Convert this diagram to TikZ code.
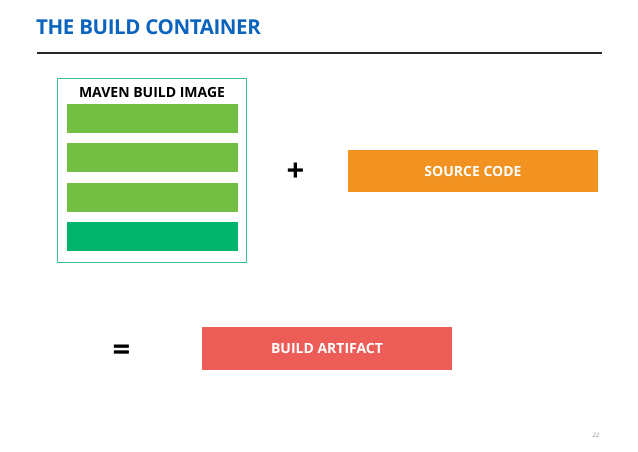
\documentclass[tikz,border=0pt]{standalone}
\usepackage{fontspec}
\setmainfont{Open Sans}
\definecolor{titreBleu}{HTML}{0A64BE}
\definecolor{vertClair}{HTML}{72BF44}
\definecolor{vertFonce}{HTML}{00B46E}
\definecolor{cadreVert}{HTML}{3CC08F}
\definecolor{orangeSrc}{HTML}{F29220}
\definecolor{rougeArt}{HTML}{EC5D57}
\begin{document}
\begin{tikzpicture}[x=1pt, y=-1pt]
			\tikzset{couche/.style={fill=vertClair, inner sep=0, minimum width=171pt, minimum height=29pt},
				bloc/.style={inner sep=0, minimum width=250pt, minimum height=42pt, text=white, font=\bfseries\fontsize{14}{16}\selectfont},
				signe/.style={inner sep=0, font=\bfseries\fontsize{31}{32}\selectfont}};

			\useasboundingbox (0,0) rectangle (638,451);

			\node[anchor=west, inner sep=0, text=titreBleu, font=\bfseries\fontsize{20.5}{22}\selectfont\addfontfeatures{LetterSpace=-2}] (titre) at (36,27) {THE BUILD CONTAINER};
			\coordinate (rg) at (37,53);
			\coordinate (rd) at (602,53);
			\draw[line width=1.3pt, black!85] (rg) -- (rd);

			\node[draw=cadreVert, line width=1.5pt, inner sep=0, minimum width=189pt, minimum height=184pt] (image) at (152,170.5) {};
			\node[inner sep=0, font=\bfseries\fontsize{14}{16}\selectfont] (imagetitre) at (152,92) {MAVEN BUILD IMAGE};
			\node[couche] (c1) at (152.5,118.5) {};
			\node[couche] (c2) at (152.5,157.5) {};
			\node[couche] (c3) at (152.5,197) {};
			\node[couche, fill=vertFonce] (c4) at (152.5,236) {};

			\node[signe] (plus) at (295.5,172) {+};
			\node[bloc, fill=orangeSrc] (source) at (473,171) {SOURCE CODE};

			\node[signe] (egal) at (121.5,353) {=};
			\node[bloc, fill=rougeArt, minimum height=43pt] (artefact) at (327,348.5) {BUILD ARTIFACT};

			\node[inner sep=0, text=black!45, font=\itshape\fontsize{6}{7}\selectfont] (page) at (596,435) {22};
		\end{tikzpicture}
\end{document}
